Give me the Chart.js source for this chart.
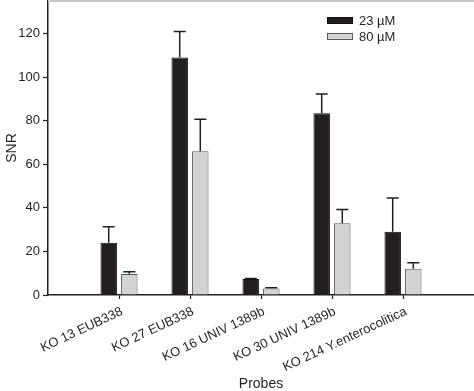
<!DOCTYPE html>
<html>
<head>
<meta charset="utf-8">
<script src="https://cdn.jsdelivr.net/npm/chart.js@4.4.1/dist/chart.umd.min.js"></script>
<style>
  html, body { margin: 0; padding: 0; background: #fff; }
  #wrap { width: 474px; height: 391px; position: relative; }
</style>
</head>
<body>
<div id="wrap"><canvas id="snrChart"></canvas></div>
<script>
// values
const probes = ['KO 13 EUB338', 'KO 27 EUB338', 'KO 16 UNIV 1389b', 'KO 30 UNIV 1389b', 'KO 214 Y.enterocolitica'];
const snr23 = [24, 109, 7.3, 83.5, 29];
const err23 = [7.3, 12, 0.3, 8.8, 15.5];
const snr80 = [9.6, 66, 3, 32.9, 12];
const err80 = [1.1, 14.7, 0.3, 6.4, 2.8];
const seriesNames = ['23 \u00b5M', '80 \u00b5M'];
const yTicks = [0, 20, 40, 60, 80, 100, 120];

const ink = '#231f20';
const grey = '#d2d3d5';
const fontFam = '"Liberation Sans", Arial, sans-serif';

// empty slot on each side so the groups sit where they do in the figure
let labels = [''].concat(probes, ['']);
let pad = function (arr) { return [null].concat(arr, [null]); };

// upper error whiskers, placed by the y scale
const errorBars = {
    id: 'errorBars',
    afterDatasetsDraw: function (chart) {
        const c = chart.ctx;
        const yScale = chart.scales.y;
        c.save();
        c.strokeStyle = ink;
        c.lineWidth = 1.5;
        chart.data.datasets.forEach(function (ds, di) {
            const meta = chart.getDatasetMeta(di);
            meta.data.forEach(function (bar, i) {
                if (ds.data[i] == null) return;
                const yTop = yScale.getPixelForValue(ds.data[i] + ds.errors[i]);
                c.beginPath();
                c.moveTo(bar.x, bar.y);
                c.lineTo(bar.x, yTop);
                c.moveTo(bar.x - 6, yTop);
                c.lineTo(bar.x + 6, yTop);
                c.stroke();
            });
        });
        c.restore();
    }
};

// grey frame line on top + legend box in the upper right
const decor = {
    id: 'decor',
    afterDraw: function (chart) {
        const c = chart.ctx;
        const a = chart.chartArea;
        c.save();
        c.strokeStyle = '#c8c8c8';
        c.lineWidth = 2;
        c.beginPath();
        c.moveTo(a.left, a.top);
        c.lineTo(a.right, a.top);
        c.stroke();

        c.font = '13px ' + fontFam;
        c.textBaseline = 'middle';
        chart.data.datasets.forEach(function (ds, i) {
            const x = 327, y = 17 + i * 16;
            c.fillStyle = ds.backgroundColor;
            c.fillRect(x, y, 26, 7);
            c.strokeStyle = ds.borderColor;
            c.lineWidth = 1;
            c.strokeRect(x + 0.5, y + 0.5, 25, 6);
            c.fillStyle = ink;
            c.fillText(ds.label, x + 32, y + 4);
        });
        c.restore();
    }
};

new Chart(document.getElementById('snrChart'), {
    type: 'bar',
    data: {
        labels: labels,
        datasets: [
            {
                label: seriesNames[0],
                data: pad(snr23),
                errors: pad(err23),
                backgroundColor: ink,
                borderColor: '#111',
                borderWidth: 1
            },
            {
                label: seriesNames[1],
                data: pad(snr80),
                errors: pad(err80),
                backgroundColor: grey,
                borderColor: '#5a5a5a',
                borderWidth: 1
            }
        ]
    },
    plugins: [errorBars, decor],
    options: {
        animation: false,
        responsive: true,
        maintainAspectRatio: false,
        categoryPercentage: 0.58,
        barPercentage: 0.8,
        layout: { padding: { top: 1, right: 0, left: 0, bottom: 0 } },
        plugins: {
            legend: { display: false },
            tooltip: { enabled: false }
        },
        scales: {
            x: {
                offset: false,
                afterFit: function (s) {
                    s.height = 96;
                    s.paddingLeft = 0;
                    s.paddingRight = 0;
                },
                border: { color: ink, width: 1.5 },
                grid: {
                    drawOnChartArea: false,
                    drawTicks: true,
                    tickLength: 4,
                    tickWidth: 1.2,
                    offset: false,
                    tickColor: function (ctx) {
                        return (ctx.index === 0 || ctx.index === labels.length - 1) ? 'rgba(0,0,0,0)' : ink;
                    }
                },
                ticks: {
                    autoSkip: false,
                    minRotation: 25,
                    maxRotation: 25,
                    padding: 5,
                    labelOffset: 3,
                    color: ink,
                    font: { family: fontFam, size: 13 }
                },
                title: {
                    display: true,
                    text: 'Probes',
                    color: ink,
                    padding: { top: 0, bottom: -2 },
                    font: { family: fontFam, size: 14 }
                }
            },
            y: {
                min: 0,
                max: 135,
                afterFit: function (s) {
                    s.width = 48;
                    s.paddingTop = 0;
                    s.paddingBottom = 0;
                },
                afterBuildTicks: function (s) {
                    s.ticks = yTicks.map(function (v) { return { value: v }; });
                },
                border: { color: ink, width: 1.5 },
                grid: {
                    drawOnChartArea: false,
                    drawTicks: true,
                    tickLength: 5,
                    tickWidth: 1.2,
                    tickColor: ink
                },
                ticks: {
                    includeBounds: false,
                    padding: 3,
                    color: ink,
                    font: { family: fontFam, size: 13 }
                },
                title: {
                    display: true,
                    text: 'SNR',
                    color: ink,
                    padding: { top: 4, bottom: 0 },
                    font: { family: fontFam, size: 14 }
                }
            }
        }
    }
});
</script>
</body>
</html>
